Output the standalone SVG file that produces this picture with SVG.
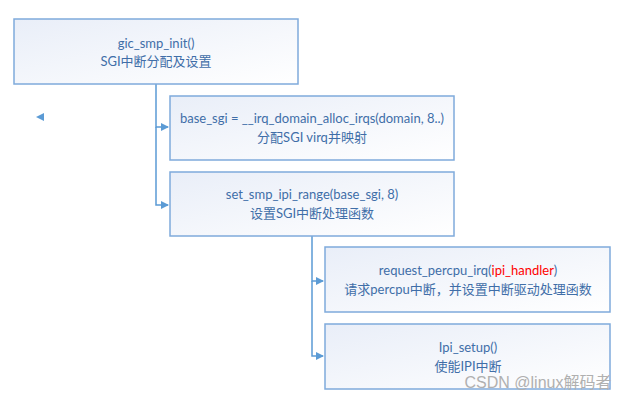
<svg xmlns="http://www.w3.org/2000/svg" width="639" height="400" viewBox="0 0 639 400">
<defs>
<linearGradient id="g" x1="0" y1="0" x2="1" y2="1"><stop offset="0" stop-color="#e9eef8"/><stop offset="1" stop-color="#ffffff"/></linearGradient>
<marker id="a" markerWidth="8" markerHeight="8" refX="7" refY="4" orient="auto" markerUnits="userSpaceOnUse"><path d="M0,0L8,4L0,8Z" fill="#5b9bd5"/></marker>
</defs>
<style>
.b{fill:url(#g);stroke:#7faadb;stroke-width:1.5}
text{font-family:Lato,"Noto Sans CJK SC",sans-serif;font-size:13px;fill:#3f6ea8;text-anchor:middle}
.c{fill:none;stroke:#5b9bd5;stroke-width:1.5}
</style>
<rect width="639" height="400" fill="#fff"/>
<g id="connectors">
<path class="c" d="M156,84V127H168" marker-end="url(#a)"/>
<path class="c" d="M156,127V205H168" marker-end="url(#a)"/>
<path class="c" d="M312,236V281H323" marker-end="url(#a)"/>
<path class="c" d="M312,281V356H323" marker-end="url(#a)"/>
<path d="M36,117L44,113L44,121Z" fill="#5b9bd5"/>
</g>
<g id="n1"><rect class="b" x="14" y="19" width="284" height="65"/><text x="156" y="48">gic_smp_init()</text><text x="156" y="66">SGI中断分配及设置</text></g>
<g id="n2"><rect class="b" x="170" y="96" width="284" height="64"/><text x="312" y="123">base_sgi = __irq_domain_alloc_irqs(domain, 8..)</text><text x="312" y="142">分配SGI virq并映射</text></g>
<g id="n3"><rect class="b" x="170" y="172" width="284" height="64"/><text x="312" y="199">set_smp_ipi_range(base_sgi, 8)</text><text x="312" y="218">设置SGI中断处理函数</text></g>
<g id="n4"><rect class="b" x="325" y="247" width="285" height="65"/><text x="468" y="275">request_percpu_irq(<tspan fill="#ff0000">ipi_handler</tspan>)</text><text x="468" y="294">请求percpu中断，并设置中断驱动处理函数</text></g>
<g id="n5"><rect class="b" x="325" y="324" width="285" height="65"/><text x="468" y="352">Ipi_setup()</text><text x="468" y="371">使能IPI中断</text></g>
<text x="538" y="388" style="font-size:16px;fill:#b0b0b0;font-family:'Liberation Sans','Noto Sans CJK SC',sans-serif">CSDN @linux解码者</text>
</svg>
